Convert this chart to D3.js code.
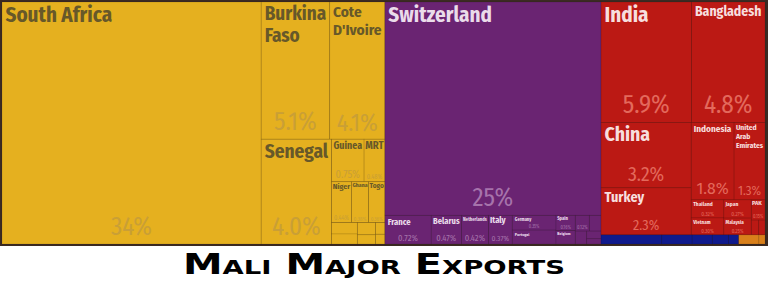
<!DOCTYPE html>
<html>
<head>
<meta charset="utf-8">
<script src="https://cdn.jsdelivr.net/npm/d3@7"></script>
<style>
body { margin: 0; background: #fff; }
svg { display: block; }
</style>
</head>
<body>
<svg id="chart" width="768" height="283"></svg>
<script>
// export partners of Mali, share of total exports (%)
const africaNames = ["South Africa", "Burkina Faso", "Cote D'Ivoire", "Senegal", "Guinea", "MRT", "Niger", "Ghana", "Togo", "Benin", "Nigeria", "Gabon", "Cameroon", "Morocco", "Algeria"];
const africaValues = [34, 5.1, 4.1, 4.0, 0.75, 0.48, 0.44, 0.38, 0.36, 0.16, 0.14, 0.12, 0.09, 0.06, 0.05];
const europeNames = ["Switzerland", "France", "Belarus", "Netherlands", "Italy", "Germany", "Portugal", "Spain", "Belgium", "United Kingdom", "Poland", "Denmark", "Sweden", "Greece"];
const europeValues = [25, 0.72, 0.47, 0.42, 0.37, 0.35, 0.33, 0.16, 0.14, 0.12, 0.1, 0.08, 0.06, 0.04];
const asiaNames = ["India", "Bangladesh", "China", "Turkey", "Indonesia", "United Arab Emirates", "Thailand", "Vietnam", "Japan", "Malaysia", "PAK", "Singapore", "Lebanon"];
const asiaValues = [5.9, 4.8, 3.2, 2.3, 1.8, 1.3, 0.32, 0.3, 0.27, 0.25, 0.15, 0.06, 0.05];
const americasNames = ["United States", "Canada", "Brazil", "Mexico", "Peru"];
const americasValues = [0.3, 0.15, 0.1, 0.08, 0.05];
const oceaniaNames = ["Australia", "New Zealand"];
const oceaniaValues = [0.1, 0.03];

const regions = [
    { name: "Africa", names: africaNames, values: africaValues },
    { name: "Europe", names: europeNames, values: europeValues },
    { name: "Asia", names: asiaNames, values: asiaValues },
    { name: "Americas", names: americasNames, values: americasValues },
    { name: "Oceania", names: oceaniaNames, values: oceaniaValues }
];

const colors = {
    "Africa":   { fill: "#e5b01f", name: "#675829", pct: "#c99f36" },
    "Europe":   { fill: "#6a2472", name: "#eadcea", pct: "#a673ab" },
    "Asia":     { fill: "#bb1914", name: "#f7dede", pct: "#e3695c" },
    "Americas": { fill: "#101a8c", name: "#ffffff", pct: "#8890d0" },
    "Oceania":  { fill: "#d9801b", name: "#ffffff", pct: "#f0c090" }
};

const FONT = "'Fira Sans Condensed', 'Liberation Sans Narrow', 'DejaVu Sans Condensed', 'Roboto', sans-serif";

const svg = d3.select("#chart");
const W = 763, H = 242, X0 = 2, Y0 = 2;

svg.append("rect")
    .attr("x", 0).attr("y", 0)
    .attr("width", 768).attr("height", 246)
    .attr("fill", "#3b2a22");

const rootData = {
    name: "Mali",
    children: regions.map(r => ({
        name: r.name,
        children: r.names.map((n, i) => ({ name: n, value: r.values[i] }))
    }))
};

const root = d3.hierarchy(rootData)
    .sum(d => d.value || 0)
    .sort((a, b) => b.value - a.value);

d3.treemap()
    .tile(d3.treemapSquarify)
    .size([W, H])(root);

const total = root.value;
const fmt = d3.format(".2r");

const g = svg.append("g").attr("transform", `translate(${X0},${Y0})`);

// hidden text used to measure label widths at 100px
const probe = svg.append("text")
    .attr("font-family", FONT)
    .attr("font-size", 100)
    .attr("x", -1000).attr("y", -1000);
function textWidth(str, weight) {
    probe.attr("font-weight", weight).text(str);
    return probe.node().getComputedTextLength() / 100;
}

const leaves = g.selectAll("g.leaf")
    .data(root.leaves())
    .enter().append("g")
    .attr("class", "leaf")
    .attr("transform", d => `translate(${d.x0},${d.y0})`);

leaves.append("rect")
    .attr("width", d => d.x1 - d.x0)
    .attr("height", d => d.y1 - d.y0)
    .attr("fill", d => colors[d.parent.data.name].fill)
    .attr("stroke", "rgba(0,0,0,0.13)")
    .attr("stroke-width", 0.8);

leaves.each(function(d) {
    const w = d.x1 - d.x0, h = d.y1 - d.y0;
    const c = colors[d.parent.data.name];
    const sel = d3.select(this);
    const pad = Math.min(3.5, w * 0.06);

    // country name, top left
    const lines = (d.data.name.includes(" ") && w < 100) ? d.data.name.split(" ") : [d.data.name];
    const longest = d3.max(lines, l => textWidth(l, "bold"));
    let fs = Math.min(21, (w - 2 * pad) / longest, h * 0.3 / (lines.length > 1 ? lines.length * 0.55 : 1));
    if (fs >= 4) {
        const t = sel.append("text")
            .attr("font-family", FONT)
            .attr("font-weight", "bold")
            .attr("font-size", fs)
            .attr("fill", c.name);
        lines.forEach((l, i) => {
            t.append("tspan")
                .attr("x", pad)
                .attr("y", pad + fs * 0.78 + i * fs * 1.15)
                .text(l);
        });
    }

    // share, centred at the bottom
    const label = fmt(d.value / total * 100) + "%";
    const pw = textWidth(label, "normal");
    const ps = Math.min(25, h * 0.3, (w * 0.75) / pw);
    if (ps >= 4 && h > 14) {
        sel.append("text")
            .attr("font-family", FONT)
            .attr("font-size", ps)
            .attr("fill", c.pct)
            .attr("text-anchor", "middle")
            .attr("x", w / 2)
            .attr("y", h - Math.max(2, ps * 0.36))
            .text(label);
    }
});

probe.remove();

svg.append("text")
    .attr("x", 374)
    .attr("y", 274)
    .attr("text-anchor", "middle")
    .attr("font-family", "'DejaVu Sans', sans-serif")
    .attr("font-weight", "bold")
    .attr("font-size", 29)
    .style("font-variant", "small-caps")
    .attr("textLength", 382)
    .attr("lengthAdjust", "spacingAndGlyphs")
    .attr("fill", "#000")
    .text("Mali Major Exports");
</script>
</body>
</html>
